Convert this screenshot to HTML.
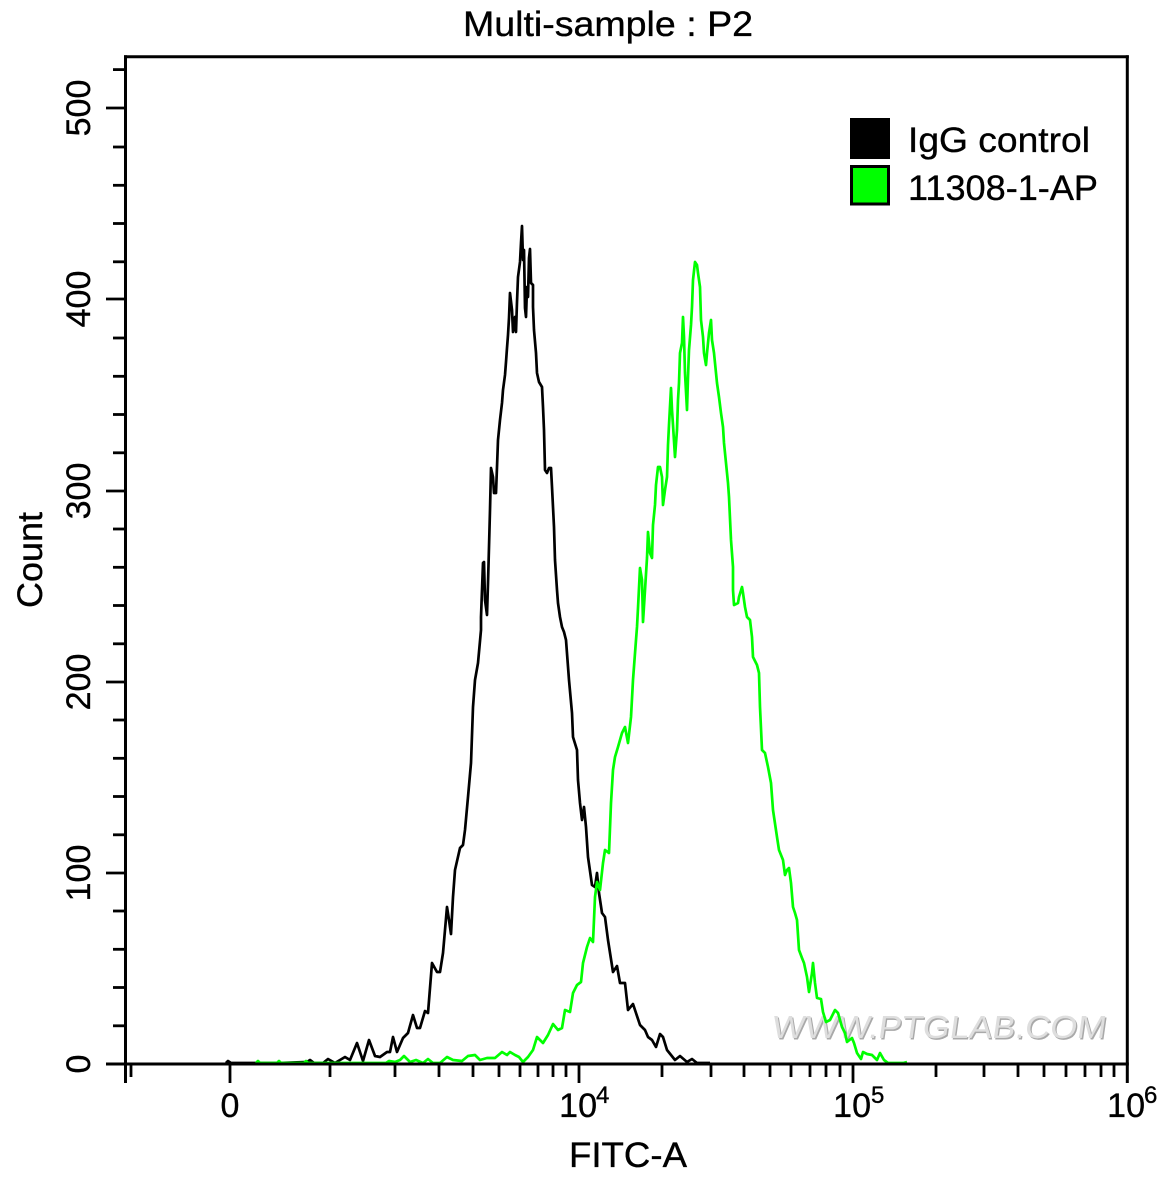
<!DOCTYPE html>
<html><head><meta charset="utf-8"><style>
html,body{margin:0;padding:0;background:#fff;}
svg{display:block;}
text{font-family:"Liberation Sans",Arial,sans-serif;fill:#000;}
.t{stroke:#000;stroke-width:0.35;}
</style></head><body>
<svg width="1175" height="1181" viewBox="0 0 1175 1181" xmlns="http://www.w3.org/2000/svg">
<rect x="0" y="0" width="1175" height="1181" fill="#fff"/>

<!-- title -->
<text class="t" x="608" y="36" font-size="35" text-anchor="middle" textLength="290" lengthAdjust="spacingAndGlyphs">Multi-sample : P2</text>

<!-- watermark -->
<g transform="translate(771,1038) skewX(-8)">
<text x="1.5" y="1.5" font-size="32" textLength="334" lengthAdjust="spacingAndGlyphs" style="fill:#a9a9a9">WWW.PTGLAB.COM</text>
<text x="0" y="0" font-size="32" textLength="334" lengthAdjust="spacingAndGlyphs" style="fill:#dedede">WWW.PTGLAB.COM</text>
</g>

<!-- curves -->
<polyline fill="none" stroke="#000" stroke-width="2.7" stroke-linejoin="round" points="226,1063 228,1061 231,1063 280,1063 307,1062 310,1060 314,1063 323,1063 328,1059 335,1063 345,1057 350,1060 357,1043 363,1061 369,1040 375,1056 380,1057 387,1052 390,1052 393,1037 397,1052 403,1038 408,1033 413,1015 417,1028 420,1028 425,1011 428,1013 432,963 437,972 440,972 443,953 447,907 449,920 451,934 453,897 455,870 460,848 463,845 465,830 468,797 471,763 473,707 475,680 478,663 481,630 481,617 482,590 483,563 484,562 485,600 487,615 488,583 489,547 490,510 491,468 493,477 494,493 496,493 497,467 498,440 500,420 502,403 503,390 505,375 506,362 507,348 508,335 509,318 510,293 512,310 513,332 515,317 516,332 517,302 518,277 520,262 521,243 522,226 523,260 524,250 525,308 526,317 527,287 528,297 529,258 530,249 531,283 533,285 533,307 534,330 536,353 537,373 539,382 542,387 543,407 544,430 545,470 547,473 549,468 551,468 552,487 553,507 554,527 555,560 557,590 558,603 560,617 562,627 564,632 566,640 569,680 572,713 573,737 577,750 578,780 580,803 582,820 584,807 586,827 588,857 592,885 595,887 597,873 599,893 602,913 605,917 608,940 613,972 617,966 620,983 625,983 628,1010 633,1004 636,1013 640,1025 645,1030 648,1037 652,1040 656,1047 660,1034 663,1037 667,1050 675,1060 680,1056 687,1062 692,1059 697,1063 710,1063"/>
<polyline fill="none" stroke="#00ff00" stroke-width="2.7" stroke-linejoin="round" points="256,1063 258,1061 260,1063 277,1063 279,1061 281,1063 304,1063 306,1061 308,1063 386,1063 389,1061 395,1062 400,1060 404,1056 410,1062 416,1060 423,1063 428,1059 433,1063 440,1063 447,1057 453,1060 462,1061 468,1056 475,1055 480,1060 487,1058 495,1058 502,1052 507,1055 510,1052 515,1055 519,1057 523,1062 528,1057 533,1050 537,1037 543,1043 548,1035 553,1024 558,1030 562,1028 565,1010 570,1012 573,993 577,985 581,982 583,963 587,947 590,938 593,942 595,897 597,882 600,890 603,863 605,850 609,853 611,803 613,770 615,757 618,747 622,733 625,727 628,743 631,717 633,680 636,640 637,627 638,608 640,568 642,580 643,622 645,590 647,558 648,532 650,553 652,558 653,525 655,505 656,485 658,467 660,467 662,477 663,505 665,490 667,477 668,445 669,425 671,388 672,410 673,425 675,457 677,430 678,400 679,383 680,353 682,343 683,317 684,337 685,373 687,410 688,377 689,350 691,325 692,307 693,280 695,262 697,265 698,273 700,287 701,320 703,337 704,353 706,365 707,353 709,333 711,320 712,340 714,353 716,373 717,383 719,397 721,413 723,427 724,443 726,463 728,483 729,497 731,540 733,567 733,590 734,605 738,603 739,597 742,587 743,593 745,607 747,617 750,620 752,637 753,657 757,665 759,673 760,707 762,750 765,753 768,767 771,783 773,810 777,837 779,850 783,860 785,875 787,870 789,868 791,883 793,907 795,913 797,920 799,950 802,958 804,963 807,977 809,992 812,973 813,963 815,983 817,998 821,999 823,1012 826,1022 830,1020 835,1010 838,1013 842,1027 845,1033 847,1042 852,1038 854,1043 857,1053 861,1059 863,1052 867,1054 872,1055 877,1060 880,1053 884,1060 888,1063 903,1063 907,1062"/>

<!-- axes frame -->
<g stroke="#000" stroke-width="3" fill="none">
<line x1="125.5" y1="55.2" x2="125.5" y2="1083"/>
<line x1="124" y1="56.7" x2="1128.8" y2="56.7"/>
<line x1="1127.3" y1="55.2" x2="1127.3" y2="1083"/>
<line x1="106" y1="1064" x2="1128.8" y2="1064"/>
</g>

<!-- y ticks -->
<g stroke="#000" stroke-width="2.8">
<line x1="106" y1="873" x2="125" y2="873"/>
<line x1="106" y1="682" x2="125" y2="682"/>
<line x1="106" y1="491" x2="125" y2="491"/>
<line x1="106" y1="299" x2="125" y2="299"/>
<line x1="106" y1="108" x2="125" y2="108"/>
<line x1="113" y1="1025.8" x2="125" y2="1025.8"/>
<line x1="113" y1="987.5" x2="125" y2="987.5"/>
<line x1="113" y1="949.3" x2="125" y2="949.3"/>
<line x1="113" y1="911" x2="125" y2="911"/>
<line x1="113" y1="834.8" x2="125" y2="834.8"/>
<line x1="113" y1="796.5" x2="125" y2="796.5"/>
<line x1="113" y1="758.3" x2="125" y2="758.3"/>
<line x1="113" y1="720" x2="125" y2="720"/>
<line x1="113" y1="643.8" x2="125" y2="643.8"/>
<line x1="113" y1="605.5" x2="125" y2="605.5"/>
<line x1="113" y1="567.3" x2="125" y2="567.3"/>
<line x1="113" y1="529" x2="125" y2="529"/>
<line x1="113" y1="452.8" x2="125" y2="452.8"/>
<line x1="113" y1="414.5" x2="125" y2="414.5"/>
<line x1="113" y1="376.3" x2="125" y2="376.3"/>
<line x1="113" y1="338" x2="125" y2="338"/>
<line x1="113" y1="261.8" x2="125" y2="261.8"/>
<line x1="113" y1="223.5" x2="125" y2="223.5"/>
<line x1="113" y1="185.3" x2="125" y2="185.3"/>
<line x1="113" y1="147" x2="125" y2="147"/>
<line x1="113" y1="69.6" x2="125" y2="69.6"/>
</g>

<!-- x ticks -->
<g stroke="#000" stroke-width="2.8">
<line x1="230" y1="1064" x2="230" y2="1083"/>
<line x1="579" y1="1064" x2="579" y2="1083"/>
<line x1="853" y1="1064" x2="853" y2="1083"/>
<line x1="131" y1="1064" x2="131" y2="1077"/>
<line x1="330" y1="1064" x2="330" y2="1077"/>
<line x1="395" y1="1064" x2="395" y2="1077"/>
<line x1="439" y1="1064" x2="439" y2="1077"/>
<line x1="473" y1="1064" x2="473" y2="1077"/>
<line x1="499" y1="1064" x2="499" y2="1077"/>
<line x1="520" y1="1064" x2="520" y2="1077"/>
<line x1="538" y1="1064" x2="538" y2="1077"/>
<line x1="553" y1="1064" x2="553" y2="1077"/>
<line x1="566" y1="1064" x2="566" y2="1077"/>
<line x1="662" y1="1064" x2="662" y2="1077"/>
<line x1="711" y1="1064" x2="711" y2="1077"/>
<line x1="744" y1="1064" x2="744" y2="1077"/>
<line x1="770" y1="1064" x2="770" y2="1077"/>
<line x1="791" y1="1064" x2="791" y2="1077"/>
<line x1="810" y1="1064" x2="810" y2="1077"/>
<line x1="826" y1="1064" x2="826" y2="1077"/>
<line x1="840" y1="1064" x2="840" y2="1077"/>
<line x1="936" y1="1064" x2="936" y2="1077"/>
<line x1="984" y1="1064" x2="984" y2="1077"/>
<line x1="1018" y1="1064" x2="1018" y2="1077"/>
<line x1="1044" y1="1064" x2="1044" y2="1077"/>
<line x1="1066" y1="1064" x2="1066" y2="1077"/>
<line x1="1085" y1="1064" x2="1085" y2="1077"/>
<line x1="1101" y1="1064" x2="1101" y2="1077"/>
<line x1="1114" y1="1064" x2="1114" y2="1077"/>
</g>

<!-- y tick labels -->
<g font-size="34" text-anchor="middle" class="t">
<text class="t" transform="translate(90,1064) rotate(-90)">0</text>
<text class="t" transform="translate(90,873) rotate(-90)">100</text>
<text class="t" transform="translate(90,682) rotate(-90)">200</text>
<text class="t" transform="translate(90,491) rotate(-90)">300</text>
<text class="t" transform="translate(90,299) rotate(-90)">400</text>
<text class="t" transform="translate(90,108) rotate(-90)">500</text>
</g>
<text class="t" transform="translate(42,560) rotate(-90)" font-size="35" text-anchor="middle" textLength="96" lengthAdjust="spacingAndGlyphs">Count</text>

<!-- x tick labels -->
<text class="t" x="230" y="1117" font-size="34" text-anchor="middle">0</text>
<text class="t" x="597" y="1117" font-size="34" text-anchor="end">10</text>
<text class="t" x="596" y="1103" font-size="24">4</text>
<text class="t" x="871" y="1117" font-size="34" text-anchor="end">10</text>
<text class="t" x="871" y="1103" font-size="24">5</text>
<text class="t" x="1145" y="1117" font-size="34" text-anchor="end">10</text>
<text class="t" x="1144" y="1103" font-size="24">6</text>

<text class="t" x="569" y="1167" font-size="35" textLength="118" lengthAdjust="spacingAndGlyphs">FITC-A</text>

<!-- legend -->
<rect x="850" y="118" width="40" height="41" fill="#000"/>
<rect x="851.5" y="166.5" width="37" height="37.5" fill="#00ff00" stroke="#000" stroke-width="3"/>
<text class="t" x="908" y="152" font-size="35" textLength="182" lengthAdjust="spacingAndGlyphs">IgG control</text>
<text class="t" x="908" y="200" font-size="35" textLength="190" lengthAdjust="spacingAndGlyphs">11308-1-AP</text>
</svg>
</body></html>
